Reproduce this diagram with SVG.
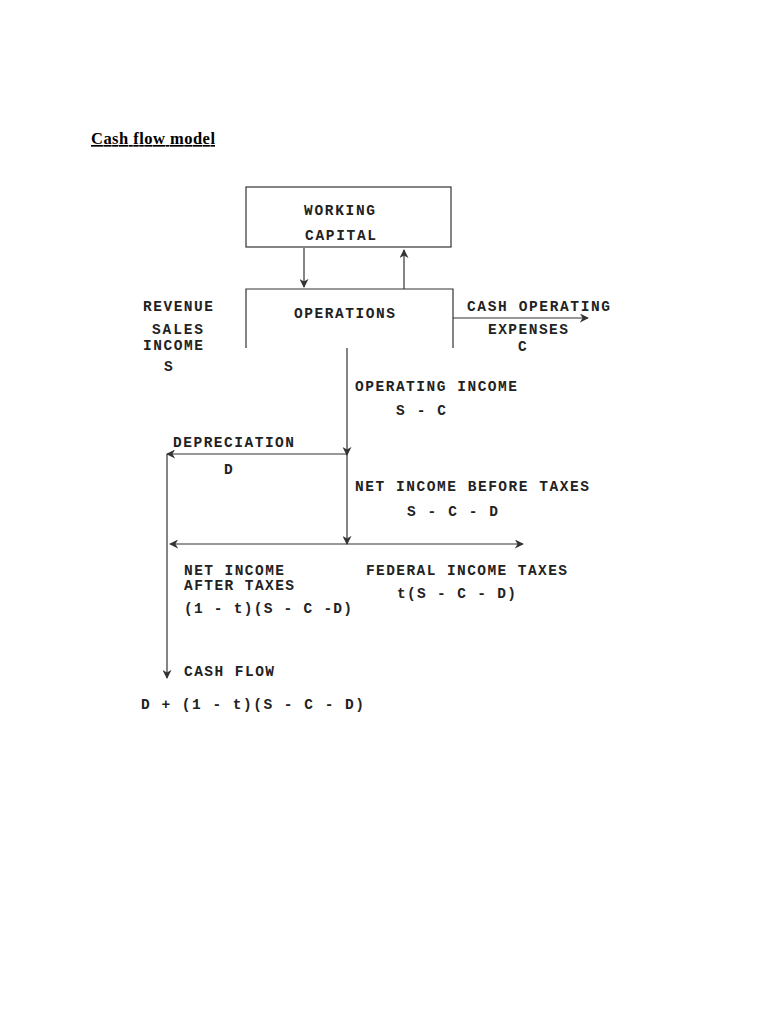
<svg xmlns="http://www.w3.org/2000/svg" width="768" height="1024" viewBox="0 0 768 1024">
<style>
text{font-family:"Liberation Mono","Courier New",monospace;font-weight:bold;font-size:14.5px;fill:#222}
.t{font-family:"Liberation Serif","Times New Roman",serif;font-size:16.5px;text-decoration:underline;fill:#000}
.b{fill:none;stroke:#333;stroke-width:1.2}
.l{stroke:#333;stroke-width:1.2;fill:none}
</style>
<defs>
<marker id="a" viewBox="0 0 10 10" refX="9" refY="5" markerWidth="9" markerHeight="9" markerUnits="userSpaceOnUse" orient="auto"><path d="M0,0 L10,5 L0,10 L3,5 Z" fill="#333"/></marker>
</defs>
<rect width="768" height="1024" fill="#fff"/>
<text class="t" x="91" y="144" textLength="124">Cash flow model</text>
<g id="working-capital">
<rect class="b" x="246" y="187" width="205" height="60"/>
<text x="304" y="215" textLength="71">WORKING</text>
<text x="305" y="240" textLength="71">CAPITAL</text>
</g>
<g id="operations">
<path class="b" d="M246,348 V289 H453 V348"/>
<text x="294" y="318" textLength="101">OPERATIONS</text>
</g>
<g id="revenue">
<text x="143" y="311" textLength="70">REVENUE</text>
<text x="152" y="334" textLength="51">SALES</text>
<text x="143" y="350" textLength="60">INCOME</text>
<text x="164" y="371">S</text>
</g>
<g id="expenses">
<text x="467" y="311" textLength="143">CASH OPERATING</text>
<text x="488" y="334" textLength="80">EXPENSES</text>
<text x="518" y="351">C</text>
</g>
<g id="operating-income">
<text x="355" y="391" textLength="162">OPERATING INCOME</text>
<text x="396" y="415" textLength="50">S - C</text>
</g>
<g id="depreciation">
<text x="173" y="447" textLength="121">DEPRECIATION</text>
<text x="224" y="474">D</text>
</g>
<g id="nibt">
<text x="355" y="491" textLength="234">NET INCOME BEFORE TAXES</text>
<text x="407" y="516" textLength="91">S - C - D</text>
</g>
<g id="niat">
<text x="184" y="575" textLength="100">NET INCOME</text>
<text x="184" y="590" textLength="110">AFTER TAXES</text>
<text x="184" y="613" textLength="168">(1 - t)(S - C -D)</text>
</g>
<g id="taxes">
<text x="366" y="575" textLength="201">FEDERAL INCOME TAXES</text>
<text x="397" y="598" textLength="119">t(S - C - D)</text>
</g>
<g id="cash-flow">
<text x="184" y="676" textLength="90">CASH FLOW</text>
<text x="141" y="709" textLength="223">D + (1 - t)(S - C - D)</text>
</g>
<g id="connectors">
<line class="l" x1="304" y1="248" x2="304" y2="287" marker-end="url(#a)"/>
<line class="l" x1="404" y1="289" x2="404" y2="250" stroke-width="2" marker-end="url(#a)"/>
<line class="l" x1="453" y1="318" x2="588" y2="318" marker-end="url(#a)"/>
<line class="l" x1="347" y1="348" x2="347" y2="455" stroke-width="1.6" marker-end="url(#a)"/>
<line class="l" x1="347" y1="455" x2="347" y2="544" marker-end="url(#a)"/>
<line class="l" x1="347" y1="454" x2="167" y2="454" marker-end="url(#a)"/>
<line class="l" x1="167" y1="454" x2="167" y2="678" marker-end="url(#a)"/>
<line class="l" x1="347" y1="544" x2="170" y2="544" marker-end="url(#a)"/>
<line class="l" x1="347" y1="544" x2="523" y2="544" marker-end="url(#a)"/>
</g>
</svg>
